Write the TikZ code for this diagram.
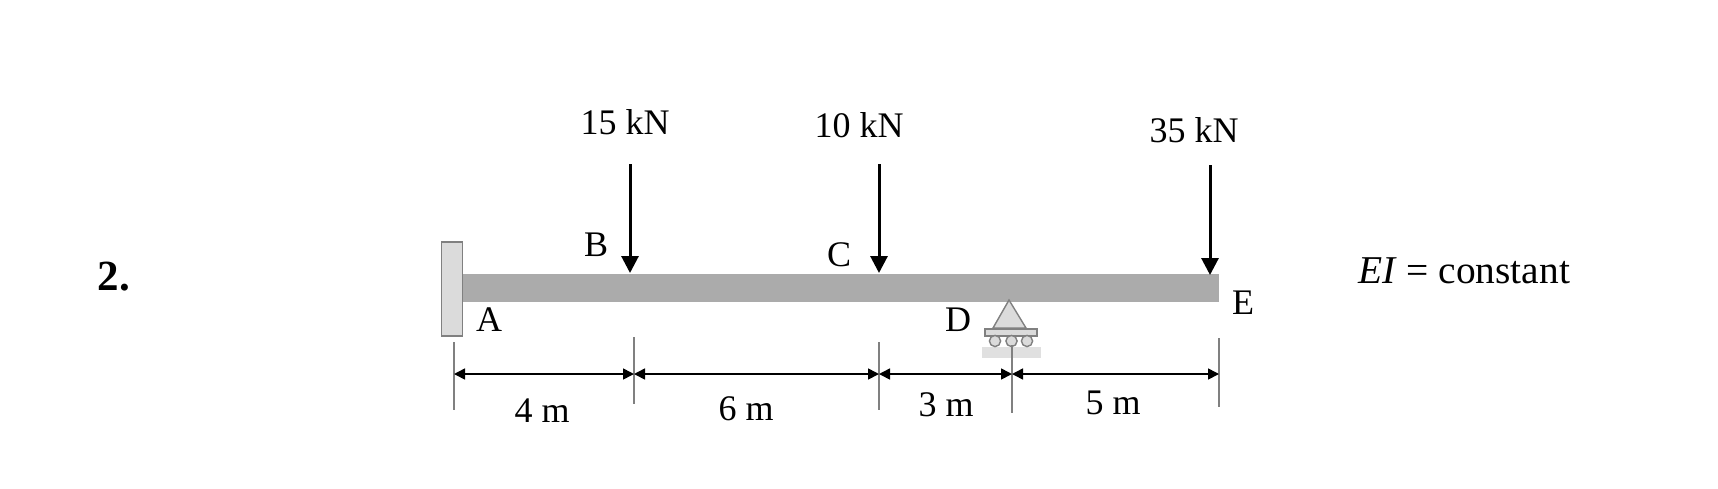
\documentclass[tikz,border=0pt]{standalone}
\usepackage{fontspec}
\setmainfont{Liberation Serif}
\usetikzlibrary{arrows.meta}

\begin{document}
\begin{tikzpicture}[
x=0.5pt, y=-0.5pt,
every node/.style = {font=\fontsize{18}{20}\selectfont, inner sep=0pt},
   Beam/.style = {rectangle, fill=black!33, minimum width=378pt, minimum height=14pt,
                  outer sep=0pt},
   Wall/.style = {rectangle, draw=black!50, fill=black!14, line width=0.8pt,
                  minimum width=10.4pt, minimum height=46.8pt, outer sep=0pt},
 Roller/.style = {circle, draw=black!50, fill=black!14, line width=0.7pt,
                  minimum size=5.6pt},
   Load/.style = {-{Triangle[length=8.5pt,width=8.5pt]}, line width=1.5pt},
    Dim/.style = {{Triangle[length=5.5pt,width=5.5pt]}-{Triangle[length=5.5pt,width=5.5pt]},
                  line width=0.8pt},
   Tick/.style = {draw=black!50, line width=0.7pt},
                        ]
\useasboundingbox (0,0) rectangle (1718,488);
% ground goes first, tick of D runs over it
\node[rectangle, fill=black!12, minimum width=29.5pt, minimum height=5.5pt] (ground) at (1011.5,352.5) {};
\node[Beam] (beam) at (841,288) {};
\node[Wall] (wall) at (452,289) {};
% support at D
\draw[draw=black!50, fill=black!14, line width=0.7pt] (1009,300) -- (1026,328) -- (993,328) -- cycle;
\node[rectangle, draw=black!50, fill=black!14, line width=0.7pt,
      minimum width=26pt, minimum height=3.5pt] (plate) at (1011,332.5) {};
\foreach \n/\x in {rl/995,rm/1011.5,rr/1027}
    \node[Roller] (\n) at (\x,341) {};
% dimension ticks
\foreach \n/\x/\a/\b in {a/454/342/410,b/634/337/404,c/879/342/410,d/1012/345/413,e/1219/338/407}{
    \coordinate (\n-top) at (\x,\a);
    \coordinate (\n-bot) at (\x,\b);
    \coordinate (\n-dim) at (\x,374);
    \draw[Tick] (\n-top) -- (\n-bot);
}
\draw[Dim] (a-dim) -- (b-dim);
\draw[Dim] (b-dim) -- (c-dim);
\draw[Dim] (c-dim) -- (d-dim);
\draw[Dim] (d-dim) -- (e-dim);
% loads
\foreach \n/\x/\a/\b in {B/630/164/273,C/879/164/273,E/1210/165/275}{
    \coordinate (\n-from) at (\x,\a);
    \coordinate (\n-to) at (\x,\b);
    \draw[Load] (\n-from) -- (\n-to);
}
\node (load15) at (625,122.5) {15 kN};
\node (load10) at (859,125.5) {10 kN};
\node (load35) at (1194,130) {35 kN};
% point names
\node (ptA) at (489,320) {A};
\node (ptB) at (596,245) {B};
\node (ptC) at (839,255) {C};
\node (ptD) at (958,320) {D};
\node (ptE) at (1243,302.5) {E};
% spans
\node (spanAB) at (542,411) {4 m};
\node (spanBC) at (746,408.5) {6 m};
\node (spanCD) at (946,405) {3 m};
\node (spanDE) at (1113,402.5) {5 m};
\node[font=\fontsize{21.5}{24}\selectfont\bfseries] (num) at (114,277) {2.};
\node[font=\fontsize{19.7}{22}\selectfont] (stiff) at (1464,271) {\textit{EI} = constant};
\end{tikzpicture}
\end{document}
